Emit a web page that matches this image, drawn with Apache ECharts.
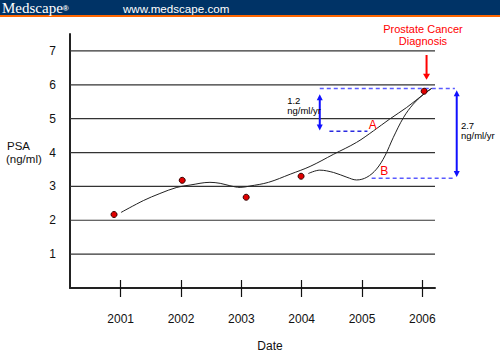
<!DOCTYPE html>
<html>
<head>
<meta charset="utf-8">
<script src="https://cdn.jsdelivr.net/npm/echarts@6/dist/echarts.min.js"></script>
<style>
html,body{margin:0;padding:0;background:#fff;}
#chart{width:500px;height:358px;}
</style>
</head>
<body>
<div id="chart"></div>
<script>
// ---- data ----
const tickYears = [2001, 2002, 2003, 2004, 2005, 2006];
const yTicks = [1, 2, 3, 4, 5, 6, 7];
const xMin = 2000.16, xMax = 2006.21, yMin = 0, yMax = 7.5;

const psaX = [2000.89, 2002.02, 2003.08, 2003.99, 2006.03];
const psaY = [2.17, 3.18, 2.68, 3.30, 5.81];

// fitted trend curve (path A)
const curveA = [
  [2001.005, 2.23], [2001.375, 2.58], [2001.65, 2.79], [2001.93, 2.97],
  [2002.15, 3.04], [2002.48, 3.12], [2002.65, 3.09], [2002.81, 3.02],
  [2002.98, 2.97], [2003.14, 3.01], [2003.45, 3.12], [2003.81, 3.36],
  [2004.14, 3.59], [2004.53, 3.95], [2004.91, 4.30], [2005.19, 4.64],
  [2005.46, 4.99], [2005.74, 5.33], [2006.02, 5.72], [2006.16, 5.90]
];
// alternative path B
const curveB = [
  [2004.11, 3.38], [2004.30, 3.48], [2004.53, 3.41], [2004.75, 3.27],
  [2004.91, 3.19], [2005.08, 3.27], [2005.24, 3.51], [2005.38, 3.90],
  [2005.52, 4.45], [2005.69, 5.04], [2005.85, 5.43], [2006.02, 5.72],
  [2006.16, 5.90]
];

// dashed reference levels: [xStart, xEnd, psa]
const dashLines = [[2004.30, 2006.54, 5.89], [2004.46, 2005.09, 4.63], [2005.16, 2006.54, 3.24]];
// blue double arrows: [x, psaTop, psaBottom]
const blueArrows = [[2004.30, 5.72, 4.65], [2006.57, 5.84, 3.28]];
// red diagnosis arrow: [x, psaTop, psaBottom]
const diagArrow = [[2006.07, 6.88, 6.15]];

const redNotes = [['Prostate Cancer', 2006.01, 7.65], ['Diagnosis', 2006.01, 7.30]];
const rateNotes = [['1.2', 2003.76, 5.53], ['ng/ml/yr', 2003.76, 5.24], ['2.7', 2006.64, 4.81], ['ng/ml/yr', 2006.64, 4.50]];
const curveLabels = [['A', 2005.18, 4.82], ['B', 2005.37, 3.45]];

// ---- chart ----
const FONT = '"Liberation Sans", Arial, sans-serif';
const chart = echarts.init(document.getElementById('chart'), null, {renderer: 'svg'});

function textSeries(list, style, z) {
  return {
    type: 'custom', z: z, silent: true, clip: false,
    data: list.map(d => [d[1], d[2]]),
    renderItem: function (params, api) {
      const d = list[params.dataIndex];
      const p = api.coord([d[1], d[2]]);
      return {type: 'text', x: p[0], y: p[1], style: Object.assign({text: d[0]}, style)};
    }
  };
}

function arrowHead(x, y, dir, len, half, color) {
  return {type: 'polygon', shape: {points: [[x, y], [x - half, y - dir * len], [x + half, y - dir * len]]},
          style: {fill: color}};
}

const option = {
  animation: false,
  backgroundColor: '#ffffff',
  grid: {left: 70, right: 65, top: 34, bottom: 70},
  xAxis: [{
    type: 'value', min: xMin, max: xMax, position: 'bottom',
    splitLine: {show: false},
    axisLine: {show: true, lineStyle: {color: '#222', width: 2}},
    axisTick: {show: true, customValues: tickYears, length: 9, lineStyle: {color: '#111', width: 1.2}},
    axisLabel: {show: true, customValues: tickYears, margin: 25, color: '#111', fontSize: 12, fontFamily: FONT,
                formatter: v => String(Math.round(v))}
  }, {
    type: 'value', min: xMin, max: xMax, position: 'bottom', gridIndex: 0,
    splitLine: {show: false},
    axisLine: {show: false},
    axisTick: {show: true, inside: true, customValues: tickYears, length: 8, lineStyle: {color: '#111', width: 1.2}},
    axisLabel: {show: false}
  }],
  yAxis: {
    type: 'value', min: yMin, max: yMax,
    splitLine: {show: false},
    axisLine: {show: true, lineStyle: {color: '#222', width: 2}},
    axisTick: {show: false},
    axisLabel: {show: true, customValues: yTicks, margin: 14, color: '#111', fontSize: 12, fontFamily: FONT}
  },
  graphic: [
    {type: 'rect', left: 0, top: 0, shape: {width: 500, height: 15}, style: {fill: '#003366'}, z: 100},
    {type: 'rect', left: 0, top: 15, shape: {width: 500, height: 2}, style: {fill: '#ff6600'}, z: 100},
    {type: 'text', x: 2, y: 7.5, z: 101, style: {
      text: '{m|Medscape}{r|®}', verticalAlign: 'middle', fill: '#fff',
      rich: {m: {fontFamily: '"Liberation Serif", "Times New Roman", serif', fontSize: 15, fill: '#fff'},
             r: {fontFamily: FONT, fontSize: 8, fontWeight: 'bold', fill: '#fff', padding: [2, 0, 0, 0]}}}},
    {type: 'text', x: 123, y: 8, z: 101, style: {text: 'www.medscape.com', fill: '#fff', fontFamily: FONT,
      fontSize: 11.6, verticalAlign: 'middle'}},
    {type: 'text', x: 270, y: 346, style: {text: 'Date', fill: '#111', fontFamily: FONT, fontSize: 12,
      align: 'center', verticalAlign: 'middle'}},
    {type: 'text', x: 7, y: 146.3, style: {text: 'PSA', fill: '#111', fontFamily: FONT, fontSize: 11.5,
      align: 'left', verticalAlign: 'middle'}},
    {type: 'text', x: 6, y: 158.6, style: {text: '(ng/ml)', fill: '#111', fontFamily: FONT, fontSize: 11.5,
      align: 'left', verticalAlign: 'middle'}}
  ],
  series: [
    { // horizontal gridlines
      type: 'custom', z: 1, silent: true,
      data: yTicks.map(v => [xMin, v]),
      renderItem: function (params, api) {
        const v = api.value(1);
        const a = api.coord([xMin, v]);
        const b = api.coord([xMax, v]);
        return {type: 'line', shape: {x1: a[0], y1: a[1], x2: b[0], y2: b[1]},
                style: {stroke: '#333', lineWidth: 1.2}};
      }
    },
    {type: 'line', z: 2, data: curveA, smooth: 0.35, showSymbol: false, silent: true,
     lineStyle: {color: '#222', width: 1}},
    {type: 'line', z: 2, data: curveB, smooth: 0.35, showSymbol: false, silent: true,
     lineStyle: {color: '#222', width: 1}},
    { // dashed levels
      type: 'custom', z: 3, silent: true, clip: false,
      data: dashLines,
      renderItem: function (params, api) {
        const d = dashLines[params.dataIndex];
        const a = api.coord([d[0], d[2]]);
        const b = api.coord([d[1], d[2]]);
        return {type: 'line', shape: {x1: a[0], y1: a[1], x2: b[0], y2: b[1]},
                style: {stroke: params.dataIndex === 1 ? '#2a2ae0' : '#5a5aff', lineWidth: 1.6, lineDash: [4, 3]}};
      }
    },
    { // blue double arrows
      type: 'custom', z: 4, silent: true, clip: false,
      data: blueArrows,
      renderItem: function (params, api) {
        const d = blueArrows[params.dataIndex];
        const t = api.coord([d[0], d[1]]);
        const b = api.coord([d[0], d[2]]);
        const c = '#1010ff';
        return {type: 'group', children: [
          {type: 'line', shape: {x1: t[0], y1: t[1] + 4, x2: b[0], y2: b[1] - 4}, style: {stroke: c, lineWidth: 2}},
          arrowHead(t[0], t[1], -1, 6, 3, c),
          arrowHead(b[0], b[1], 1, 6, 3, c)
        ]};
      }
    },
    { // red diagnosis arrow
      type: 'custom', z: 4, silent: true, clip: false,
      data: diagArrow,
      renderItem: function (params, api) {
        const d = diagArrow[params.dataIndex];
        const t = api.coord([d[0], d[1]]);
        const b = api.coord([d[0], d[2]]);
        const c = '#ff0000';
        return {type: 'group', children: [
          {type: 'line', shape: {x1: t[0], y1: t[1], x2: b[0], y2: b[1] - 4}, style: {stroke: c, lineWidth: 2}},
          arrowHead(b[0], b[1], 1, 6, 3.5, c)
        ]};
      }
    },
    textSeries(redNotes, {fill: '#ff0000', fontFamily: FONT, fontSize: 11, align: 'center', verticalAlign: 'middle'}, 6),
    textSeries(rateNotes, {fill: '#000', fontFamily: FONT, fontSize: 9.5, align: 'left', verticalAlign: 'middle'}, 6),
    textSeries(curveLabels, {fill: '#ff0000', fontFamily: FONT, fontSize: 12, align: 'center', verticalAlign: 'middle'}, 6),
    {type: 'scatter', z: 5, silent: true,
     data: psaX.map((x, i) => [x, psaY[i]]),
     symbol: 'circle', symbolSize: 6,
     itemStyle: {color: '#e00000', borderColor: '#330000', borderWidth: 1, opacity: 1}}
  ]
};
chart.setOption(option);
</script>
</body>
</html>
